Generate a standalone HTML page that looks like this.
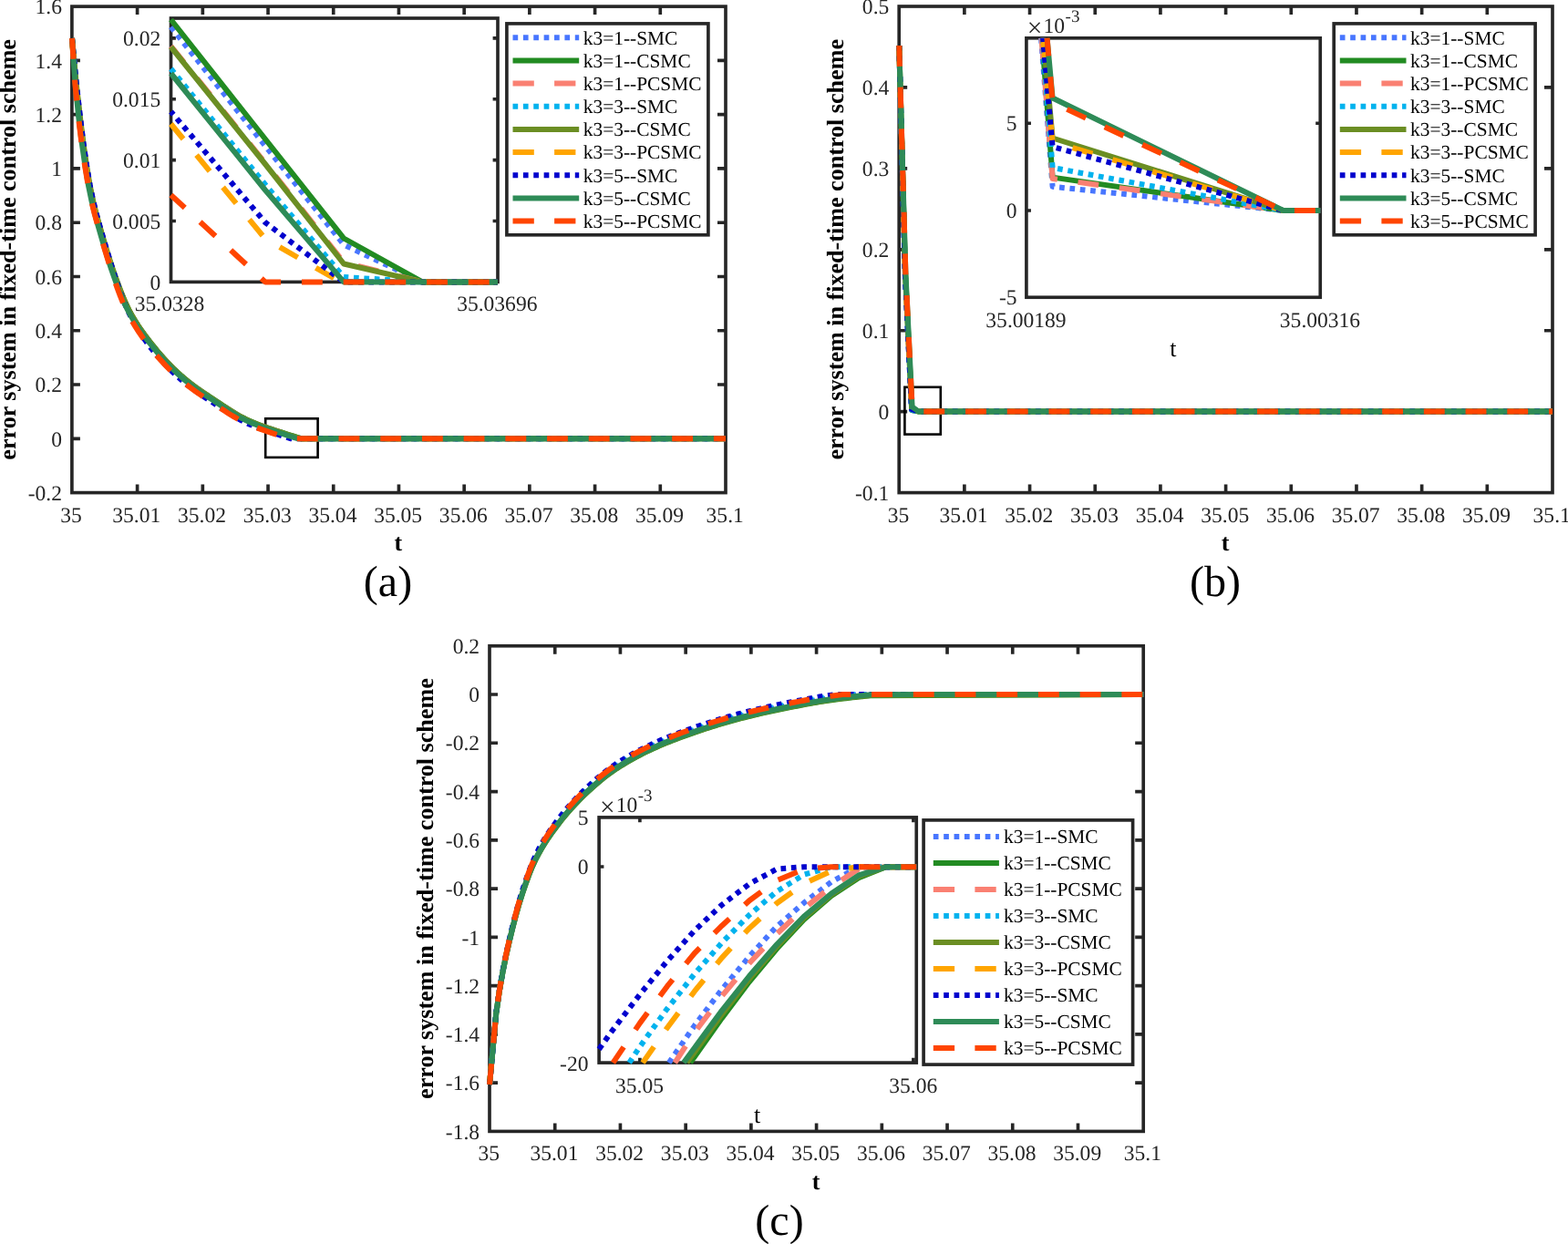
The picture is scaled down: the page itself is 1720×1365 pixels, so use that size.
<!DOCTYPE html>
<html lang="en"><head><meta charset="utf-8"><title>Error system in fixed-time control scheme</title>
<style>html,body{margin:0;padding:0;background:#fff}svg{display:block;font-family:"Liberation Serif","Times New Roman",Times,serif}text{white-space:pre;text-rendering:geometricPrecision}</style>
</head><body>
<svg width="1720" height="1365" viewBox="0 0 1720 1365">
<rect width="1720" height="1365" fill="#fff"/>
<path d="M150.61 540.6v-9M150.61 7.1v9M222.32 540.6v-9M222.32 7.1v9M294.03 540.6v-9M294.03 7.1v9M365.74 540.6v-9M365.74 7.1v9M437.45 540.6v-9M437.45 7.1v9M509.16 540.6v-9M509.16 7.1v9M580.87 540.6v-9M580.87 7.1v9M652.58 540.6v-9M652.58 7.1v9M724.29 540.6v-9M724.29 7.1v9M78.9 66.38h9M796 66.38h-9M78.9 125.66h9M796 125.66h-9M78.9 184.93h9M796 184.93h-9M78.9 244.21h9M796 244.21h-9M78.9 303.49h9M796 303.49h-9M78.9 362.77h9M796 362.77h-9M78.9 422.04h9M796 422.04h-9M78.9 481.32h9M796 481.32h-9" fill="none" stroke="#262626" stroke-width="3.65"/>
<text x="68" y="15.3" font-size="23.55" text-anchor="end" fill="#262626">1.6</text>
<text x="68" y="74.58" font-size="23.55" text-anchor="end" fill="#262626">1.4</text>
<text x="68" y="133.86" font-size="23.55" text-anchor="end" fill="#262626">1.2</text>
<text x="68" y="193.13" font-size="23.55" text-anchor="end" fill="#262626">1</text>
<text x="68" y="252.41" font-size="23.55" text-anchor="end" fill="#262626">0.8</text>
<text x="68" y="311.69" font-size="23.55" text-anchor="end" fill="#262626">0.6</text>
<text x="68" y="370.97" font-size="23.55" text-anchor="end" fill="#262626">0.4</text>
<text x="68" y="430.24" font-size="23.55" text-anchor="end" fill="#262626">0.2</text>
<text x="68" y="489.52" font-size="23.55" text-anchor="end" fill="#262626">0</text>
<text x="68" y="548.8" font-size="23.55" text-anchor="end" fill="#262626">-0.2</text>
<text x="78.1" y="572.5" font-size="23.55" text-anchor="middle" fill="#262626">35</text>
<text x="149.81" y="572.5" font-size="23.55" text-anchor="middle" fill="#262626">35.01</text>
<text x="221.52" y="572.5" font-size="23.55" text-anchor="middle" fill="#262626">35.02</text>
<text x="293.23" y="572.5" font-size="23.55" text-anchor="middle" fill="#262626">35.03</text>
<text x="364.94" y="572.5" font-size="23.55" text-anchor="middle" fill="#262626">35.04</text>
<text x="436.65" y="572.5" font-size="23.55" text-anchor="middle" fill="#262626">35.05</text>
<text x="508.36" y="572.5" font-size="23.55" text-anchor="middle" fill="#262626">35.06</text>
<text x="580.07" y="572.5" font-size="23.55" text-anchor="middle" fill="#262626">35.07</text>
<text x="651.78" y="572.5" font-size="23.55" text-anchor="middle" fill="#262626">35.08</text>
<text x="723.49" y="572.5" font-size="23.55" text-anchor="middle" fill="#262626">35.09</text>
<text x="795.2" y="572.5" font-size="23.55" text-anchor="middle" fill="#262626">35.1</text>
<text x="436.95" y="604" font-size="26.1" text-anchor="middle" font-weight="bold" fill="#000">t</text>
<text x="17.4" y="273.85" font-size="26.1" text-anchor="middle" font-weight="bold" transform="rotate(-90 17.4 273.85)" fill="#000">error system in fixed-time control scheme</text>
<rect x="78.9" y="7.1" width="717.1" height="533.5" fill="none" stroke="#262626" stroke-width="3.65"/>
<rect x="291.2" y="459.3" width="57.4" height="42.6" fill="none" stroke="#000" stroke-width="2.6"/>
<path d="M79 42 L83.3 91.96 L87.16 127.55 L90.75 156.69 L94.33 181.37 L97.91 202.95 L101.49 220.3 L105.06 234.72 L108.64 247.62 L112.23 260.14 L115.81 272.32 L119.39 283.9 L122.96 294.74 L126.53 304.82 L130.1 314.5 L133.67 323.65 L137.24 332.05 L140.79 339.46 L144.35 346 L147.91 352 L151.47 357.55 L155.04 362.73 L158.6 367.63 L162.17 372.35 L165.75 376.93 L169.32 381.38 L172.9 385.68 L176.47 389.85 L180.05 393.87 L183.62 397.74 L187.19 401.45 L190.76 405.01 L194.33 408.42 L197.9 411.65 L201.47 414.74 L205.04 417.68 L208.61 420.5 L212.18 423.21 L215.76 425.83 L219.33 428.37 L222.91 430.84 L226.49 433.27 L230.07 435.66 L233.65 438.03 L237.24 440.4 L240.82 442.78 L244.4 445.15 L247.99 447.49 L251.56 449.79 L255.14 452.04 L258.71 454.2 L262.28 456.27 L265.84 458.22 L269.4 460.04 L272.96 461.72 L276.53 463.27 L280.09 464.74 L283.66 466.12 L287.24 467.44 L290.81 468.7 L294.39 469.92 L297.97 471.12 L301.55 472.29 L305.13 473.46 L308.72 474.63 L312.3 475.81 L315.88 476.96 L319.46 478.08 L323.04 479.17 L326.62 480.25 L331 481.3 L796 481.3" fill="none" stroke="#4876FF" stroke-width="6" stroke-linejoin="round" stroke-dasharray="5.7 5.7"/>
<path d="M79 42 L83.44 91.95 L87.36 127.53 L90.94 156.66 L94.53 181.34 L98.11 202.92 L101.68 220.26 L105.26 234.67 L108.84 247.56 L112.42 260.08 L116 272.26 L119.58 283.84 L123.15 294.68 L126.72 304.75 L130.29 314.43 L133.86 323.58 L137.42 331.96 L140.97 339.37 L144.53 345.91 L148.08 351.9 L151.64 357.44 L155.2 362.61 L158.76 367.51 L162.33 372.23 L165.9 376.81 L169.48 381.25 L173.05 385.55 L176.62 389.72 L180.2 393.73 L183.77 397.6 L187.34 401.31 L190.9 404.87 L194.47 408.27 L198.03 411.5 L201.6 414.58 L205.17 417.52 L208.73 420.34 L212.3 423.05 L215.87 425.67 L219.45 428.2 L223.02 430.68 L226.6 433.1 L230.18 435.49 L233.76 437.86 L237.35 440.23 L240.93 442.61 L244.51 444.98 L248.09 447.32 L251.67 449.63 L255.24 451.87 L258.81 454.03 L262.38 456.09 L265.94 458.04 L269.49 459.86 L273.04 461.54 L276.6 463.09 L280.17 464.55 L283.73 465.93 L287.3 467.25 L290.88 468.51 L294.45 469.74 L298.03 470.93 L301.61 472.1 L305.2 473.27 L308.78 474.44 L312.37 475.62 L315.94 476.77 L319.52 477.89 L323.1 478.98 L326.68 480.06 L331 481.3 L796 481.3" fill="none" stroke="#228B22" stroke-width="6" stroke-linejoin="round"/>
<path d="M79 42 L83.3 91.96 L87.16 127.55 L90.75 156.69 L94.33 181.37 L97.91 202.95 L101.49 220.3 L105.06 234.72 L108.64 247.62 L112.23 260.14 L115.81 272.32 L119.39 283.9 L122.95 294.74 L126.51 304.82 L130.08 314.51 L133.64 323.67 L137.2 332.06 L140.75 339.48 L144.3 346.03 L147.86 352.04 L151.42 357.59 L154.97 362.77 L158.54 367.68 L162.1 372.4 L165.67 376.99 L169.24 381.44 L172.82 385.75 L176.4 389.91 L179.97 393.93 L183.55 397.8 L187.12 401.52 L190.69 405.09 L194.26 408.49 L197.84 411.73 L201.41 414.81 L204.98 417.76 L208.55 420.58 L212.12 423.29 L215.7 425.91 L219.27 428.45 L222.85 430.93 L226.43 433.35 L230.01 435.74 L233.6 438.11 L237.18 440.48 L240.77 442.86 L244.35 445.23 L247.93 447.58 L251.51 449.88 L255.08 452.12 L258.66 454.28 L262.23 456.35 L265.79 458.31 L269.36 460.13 L272.92 461.81 L276.49 463.36 L280.06 464.83 L283.63 466.21 L287.2 467.53 L290.78 468.8 L294.36 470.02 L297.94 471.21 L301.52 472.39 L305.1 473.55 L308.69 474.73 L312.27 475.9 L315.85 477.05 L319.43 478.17 L323.01 479.27 L326.59 480.35 L331 481.3 L796 481.3" fill="none" stroke="#FA8072" stroke-width="6" stroke-linejoin="round" stroke-dasharray="22.85 22.86"/>
<path d="M79 42 L83.51 91.94 L87.46 127.52 L91.04 156.65 L94.62 181.32 L98.2 202.9 L101.78 220.24 L105.35 234.64 L108.93 247.54 L112.51 260.06 L116.09 272.23 L119.66 283.81 L123.17 294.67 L126.68 304.76 L130.18 314.47 L133.69 323.65 L137.19 332.07 L140.69 339.52 L144.19 346.1 L147.69 352.14 L151.2 357.73 L154.72 362.95 L158.23 367.91 L161.75 372.67 L165.28 377.3 L168.86 381.76 L172.44 386.07 L176.02 390.24 L179.6 394.27 L183.18 398.15 L186.76 401.87 L190.34 405.44 L193.92 408.85 L197.5 412.1 L201.08 415.19 L204.66 418.15 L208.24 420.97 L211.82 423.69 L215.41 426.32 L218.99 428.86 L222.57 431.34 L226.15 433.77 L229.74 436.16 L233.32 438.53 L236.91 440.9 L240.49 443.28 L244.07 445.65 L247.66 448 L251.24 450.3 L254.82 452.55 L258.4 454.72 L261.98 456.79 L265.56 458.75 L269.14 460.58 L272.71 462.27 L276.29 463.83 L279.87 465.29 L283.45 466.68 L287.03 468 L290.61 469.27 L294.2 470.49 L297.78 471.69 L301.36 472.86 L304.95 474.03 L308.53 475.2 L312.12 476.38 L315.7 477.53 L319.28 478.65 L322.87 479.75 L326.45 480.82 L331 481.3 L796 481.3" fill="none" stroke="#00B2EE" stroke-width="6" stroke-linejoin="round" stroke-dasharray="5.7 5.7"/>
<path d="M79 42 L83.73 91.93 L87.76 127.48 L91.34 156.61 L94.92 181.28 L98.5 202.84 L102.07 220.17 L105.64 234.57 L109.22 247.46 L112.8 259.97 L116.38 272.15 L119.95 283.72 L123.48 294.56 L127 304.64 L130.53 314.34 L134.05 323.5 L137.57 331.9 L141.08 339.32 L144.59 345.87 L148.11 351.88 L151.63 357.45 L155.15 362.65 L158.68 367.57 L162.21 372.32 L165.75 376.93 L169.32 381.38 L172.9 385.68 L176.47 389.85 L180.05 393.87 L183.62 397.74 L187.19 401.45 L190.76 405.01 L194.33 408.42 L197.9 411.65 L201.47 414.74 L205.04 417.68 L208.61 420.5 L212.18 423.21 L215.76 425.83 L219.33 428.37 L222.91 430.84 L226.49 433.27 L230.07 435.66 L233.65 438.03 L237.24 440.4 L240.82 442.78 L244.4 445.15 L247.99 447.49 L251.56 449.79 L255.14 452.04 L258.71 454.2 L262.28 456.27 L265.84 458.22 L269.4 460.04 L272.96 461.72 L276.53 463.27 L280.09 464.74 L283.66 466.12 L287.24 467.44 L290.81 468.7 L294.39 469.92 L297.97 471.12 L301.55 472.29 L305.13 473.46 L308.72 474.63 L312.3 475.81 L315.88 476.96 L319.46 478.08 L323.04 479.17 L326.62 480.25 L331 481.3 L796 481.3" fill="none" stroke="#6B8E23" stroke-width="6" stroke-linejoin="round"/>
<path d="M79 42 L83.01 91.99 L86.77 127.59 L90.35 156.74 L93.93 181.43 L97.52 203.02 L101.1 220.39 L104.68 234.82 L108.26 247.73 L111.84 260.25 L115.42 272.43 L118.99 284.02 L122.43 294.92 L125.86 305.06 L129.31 314.8 L132.75 324.03 L136.19 332.52 L139.65 340.05 L143.11 346.71 L146.57 352.83 L150.04 358.5 L153.51 363.81 L156.99 368.83 L160.47 373.66 L163.94 378.36 L167.54 382.83 L171.14 387.17 L174.74 391.36 L178.34 395.41 L181.95 399.31 L185.55 403.06 L189.16 406.66 L192.77 410.1 L196.38 413.38 L199.99 416.49 L203.6 419.47 L207.2 422.32 L210.81 425.06 L214.41 427.69 L218.01 430.25 L221.61 432.74 L225.2 435.18 L228.79 437.58 L232.38 439.95 L235.97 442.32 L239.55 444.69 L243.14 447.07 L246.73 449.42 L250.33 451.74 L253.93 453.99 L257.54 456.18 L261.15 458.27 L264.76 460.25 L268.39 462.11 L272.01 463.82 L275.63 465.39 L279.24 466.87 L282.85 468.27 L286.45 469.6 L290.06 470.88 L293.65 472.1 L297.25 473.3 L300.84 474.48 L304.42 475.64 L308 476.82 L311.59 478 L315.19 479.15 L318.78 480.28 L322.37 481.3 L796 481.3" fill="none" stroke="#FFA500" stroke-width="6" stroke-linejoin="round" stroke-dasharray="22.85 22.86"/>
<path d="M79 42 L83.8 91.92 L87.86 127.47 L91.44 156.59 L95.02 181.26 L98.6 202.83 L102.17 220.15 L105.74 234.54 L109.32 247.43 L112.9 259.94 L116.48 272.12 L120.02 283.7 L123.3 294.62 L126.59 304.79 L129.89 314.58 L133.18 323.85 L136.49 332.39 L139.8 339.97 L143.12 346.71 L146.45 352.91 L149.8 358.66 L153.15 364.06 L156.51 369.19 L159.87 374.12 L163.24 378.92 L166.84 383.4 L170.45 387.75 L174.06 391.95 L177.68 396.01 L181.29 399.93 L184.91 403.69 L188.53 407.3 L192.15 410.76 L195.78 414.05 L199.41 417.18 L203.03 420.17 L206.65 423.03 L210.27 425.78 L213.88 428.42 L217.49 430.99 L221.1 433.48 L224.7 435.92 L228.3 438.32 L231.89 440.7 L235.47 443.07 L239.06 445.45 L242.65 447.82 L246.24 450.18 L249.85 452.49 L253.46 454.76 L257.08 456.95 L260.71 459.05 L264.34 461.05 L267.99 462.92 L271.64 464.64 L275.28 466.22 L278.91 467.71 L282.53 469.11 L286.15 470.45 L289.76 471.73 L293.36 472.96 L296.96 474.16 L300.56 475.33 L304.14 476.5 L307.72 477.67 L311.31 478.85 L314.91 480.01 L318.52 481.14 L322.11 481.3 L796 481.3" fill="none" stroke="#0000CD" stroke-width="6" stroke-linejoin="round" stroke-dasharray="5.7 5.7"/>
<path d="M79 42 L82.58 92.02 L86.17 127.66 L89.75 156.82 L93.34 181.52 L96.92 203.13 L100.51 220.52 L104.09 234.97 L107.68 247.89 L111.26 260.42 L114.85 272.61 L118.43 284.2 L122.02 295.06 L125.6 305.15 L129.19 314.85 L132.77 324.02 L136.36 332.44 L139.94 339.89 L143.53 346.47 L147.11 352.5 L150.7 358.06 L154.28 363.26 L157.87 368.17 L161.45 372.9 L165.04 377.49 L168.62 381.95 L172.21 386.26 L175.79 390.44 L179.38 394.47 L182.96 398.35 L186.55 402.08 L190.13 405.66 L193.72 409.07 L197.3 412.33 L200.89 415.42 L204.47 418.38 L208.06 421.21 L211.64 423.93 L215.23 426.56 L218.81 429.11 L222.4 431.59 L225.98 434.02 L229.57 436.41 L233.15 438.78 L236.74 441.15 L240.32 443.53 L243.91 445.9 L247.49 448.25 L251.08 450.55 L254.66 452.8 L258.25 454.97 L261.83 457.05 L265.42 459.02 L269 460.85 L272.59 462.54 L276.17 464.1 L279.76 465.57 L283.34 466.96 L286.93 468.28 L290.51 469.55 L294.1 470.78 L297.68 471.97 L301.27 473.15 L304.85 474.31 L308.44 475.49 L312.02 476.67 L315.61 477.82 L319.19 478.94 L322.78 480.04 L326.36 481.11 L327 481.3 L796 481.3" fill="none" stroke="#2E8B57" stroke-width="6" stroke-linejoin="round"/>
<path d="M79 42 L82.37 92.04 L85.87 127.69 L89.46 156.86 L93.04 181.57 L96.63 203.19 L100.22 220.59 L103.8 235.05 L107.39 247.97 L110.98 260.5 L114.56 272.69 L118.13 284.3 L121.53 295.23 L124.94 305.39 L128.35 315.17 L131.77 324.43 L135.2 332.97 L138.64 340.56 L142.09 347.29 L145.54 353.47 L149 359.19 L152.47 364.55 L155.93 369.62 L159.39 374.49 L162.85 379.23 L166.46 383.72 L170.07 388.07 L173.69 392.28 L177.31 396.35 L180.93 400.27 L184.55 404.04 L188.18 407.66 L191.81 411.12 L195.45 414.42 L199.08 417.56 L202.72 420.56 L206.35 423.43 L209.97 426.18 L213.59 428.83 L217.21 431.4 L220.82 433.9 L224.42 436.34 L228.02 438.74 L231.61 441.12 L235.19 443.49 L238.78 445.86 L242.37 448.24 L245.97 450.6 L249.58 452.92 L253.2 455.19 L256.82 457.38 L260.46 459.49 L264.11 461.49 L267.77 463.36 L271.43 465.09 L275.08 466.68 L278.72 468.17 L282.35 469.58 L285.98 470.92 L289.6 472.2 L293.21 473.43 L296.81 474.63 L300.4 475.81 L303.99 476.97 L307.57 478.15 L311.16 479.33 L314.76 480.49 L318.37 481.3 L796 481.3" fill="none" stroke="#FF4500" stroke-width="6" stroke-linejoin="round" stroke-dasharray="22.85 22.86"/>
<rect x="187.5" y="20" width="358.5" height="289.4" fill="#fff"/>
<path d="M187.5 242.5h5.41M546 242.5h-5.41M187.5 175.6h5.41M546 175.6h-5.41M187.5 108.7h5.41M546 108.7h-5.41M187.5 41.8h5.41M546 41.8h-5.41" fill="none" stroke="#262626" stroke-width="3.65"/>
<rect x="187.5" y="20" width="358.5" height="289.4" fill="none" stroke="#262626" stroke-width="3.65"/>
<text x="176.2" y="318" font-size="23.55" text-anchor="end" fill="#262626">0</text>
<text x="176.2" y="251.1" font-size="23.55" text-anchor="end" fill="#262626">0.005</text>
<text x="176.2" y="184.2" font-size="23.55" text-anchor="end" fill="#262626">0.01</text>
<text x="176.2" y="117.3" font-size="23.55" text-anchor="end" fill="#262626">0.015</text>
<text x="176.2" y="50.4" font-size="23.55" text-anchor="end" fill="#262626">0.02</text>
<text x="186" y="341.3" font-size="23.55" text-anchor="middle" fill="#262626">35.0328</text>
<text x="545.3" y="341.3" font-size="23.55" text-anchor="middle" fill="#262626">35.03696</text>
<path d="M187.5 29.5 L290.9 160 L377.1 268.5 L463.3 309.4 L546 309.4" fill="none" stroke="#4876FF" stroke-width="6" stroke-linejoin="round" stroke-dasharray="5.7 5.7"/>
<path d="M187.5 21.5 L290.9 152.5 L377.1 261.5 L463.3 309.4 L546 309.4" fill="none" stroke="#228B22" stroke-width="6" stroke-linejoin="round"/>
<path d="M187.5 50.6 L290.9 178.8 L377.1 288 L463.3 309.4 L546 309.4" fill="none" stroke="#FA8072" stroke-width="6" stroke-linejoin="round" stroke-dasharray="22.85 22.86"/>
<path d="M187.5 75.5 L290.9 202.5 L377.1 304 L463.3 309.4 L546 309.4" fill="none" stroke="#00B2EE" stroke-width="6" stroke-linejoin="round" stroke-dasharray="5.7 5.7"/>
<path d="M187.5 51.5 L290.9 180 L377.1 289.5 L463.3 309.4 L546 309.4" fill="none" stroke="#6B8E23" stroke-width="6" stroke-linejoin="round"/>
<path d="M187.5 136 L290.9 262 L373.61 309.4" fill="none" stroke="#FFA500" stroke-width="6" stroke-linejoin="round" stroke-dasharray="22.85 22.86" stroke-dashoffset="1.5"/>
<path d="M463.3 309.4 L546 309.4" fill="none" stroke="#FFA500" stroke-width="6" stroke-linejoin="round" stroke-dasharray="22.85 22.86" stroke-dashoffset="1.5"/>
<path d="M187.5 122.5 L290.9 244 L377.1 309.4 L463.3 309.4 L546 309.4" fill="none" stroke="#0000CD" stroke-width="6" stroke-linejoin="round" stroke-dasharray="5.7 5.7" stroke-dashoffset="1.4"/>
<path d="M187.5 80.5 L290.9 208.5 L377.1 309.4 L463.3 309.4 L546 309.4" fill="none" stroke="#2E8B57" stroke-width="6" stroke-linejoin="round"/>
<path d="M187.5 214 L290.9 309.4 L377.1 309.4 L463.3 309.4 L546 309.4" fill="none" stroke="#FF4500" stroke-width="6" stroke-linejoin="round" stroke-dasharray="22.85 22.86" stroke-dashoffset="2.1"/>
<rect x="555.9" y="25.9" width="221" height="231.9" fill="#fff" stroke="#262626" stroke-width="3.65"/>
<path d="M562.5 41.3H635.2" stroke="#4876FF" stroke-width="6" fill="none" stroke-dasharray="5.7 5.68"/>
<text x="639.8" y="48.6" font-size="21.4" fill="#000">k3=1--SMC</text>
<path d="M562.5 66.46H635.2" stroke="#228B22" stroke-width="6" fill="none"/>
<text x="639.8" y="73.76" font-size="21.4" fill="#000">k3=1--CSMC</text>
<path d="M562.5 91.62H635.2" stroke="#FA8072" stroke-width="6" fill="none" stroke-dasharray="23.3 22.3"/>
<text x="639.8" y="98.92" font-size="21.4" fill="#000">k3=1--PCSMC</text>
<path d="M562.5 116.78H635.2" stroke="#00B2EE" stroke-width="6" fill="none" stroke-dasharray="5.7 5.68"/>
<text x="639.8" y="124.08" font-size="21.4" fill="#000">k3=3--SMC</text>
<path d="M562.5 141.94H635.2" stroke="#6B8E23" stroke-width="6" fill="none"/>
<text x="639.8" y="149.24" font-size="21.4" fill="#000">k3=3--CSMC</text>
<path d="M562.5 167.1H635.2" stroke="#FFA500" stroke-width="6" fill="none" stroke-dasharray="23.3 22.3"/>
<text x="639.8" y="174.4" font-size="21.4" fill="#000">k3=3--PCSMC</text>
<path d="M562.5 192.26H635.2" stroke="#0000CD" stroke-width="6" fill="none" stroke-dasharray="5.7 5.68"/>
<text x="639.8" y="199.56" font-size="21.4" fill="#000">k3=5--SMC</text>
<path d="M562.5 217.42H635.2" stroke="#2E8B57" stroke-width="6" fill="none"/>
<text x="639.8" y="224.72" font-size="21.4" fill="#000">k3=5--CSMC</text>
<path d="M562.5 242.58H635.2" stroke="#FF4500" stroke-width="6" fill="none" stroke-dasharray="23.3 22.3"/>
<text x="639.8" y="249.88" font-size="21.4" fill="#000">k3=5--PCSMC</text>
<text x="425.5" y="654.4" font-size="48" text-anchor="middle" fill="#000">(a)</text>
<path d="M1057.88 540.6v-8.99M1057.88 7v8.99M1129.56 540.6v-8.99M1129.56 7v8.99M1201.24 540.6v-8.99M1201.24 7v8.99M1272.92 540.6v-8.99M1272.92 7v8.99M1344.6 540.6v-8.99M1344.6 7v8.99M1416.28 540.6v-8.99M1416.28 7v8.99M1487.96 540.6v-8.99M1487.96 7v8.99M1559.64 540.6v-8.99M1559.64 7v8.99M1631.32 540.6v-8.99M1631.32 7v8.99M986.2 95.93h8.99M1703 95.93h-8.99M986.2 184.87h8.99M1703 184.87h-8.99M986.2 273.8h8.99M1703 273.8h-8.99M986.2 362.73h8.99M1703 362.73h-8.99M986.2 451.67h8.99M1703 451.67h-8.99" fill="none" stroke="#262626" stroke-width="3.65"/>
<text x="975.3" y="15.2" font-size="23.55" text-anchor="end" fill="#262626">0.5</text>
<text x="975.3" y="104.13" font-size="23.55" text-anchor="end" fill="#262626">0.4</text>
<text x="975.3" y="193.07" font-size="23.55" text-anchor="end" fill="#262626">0.3</text>
<text x="975.3" y="282" font-size="23.55" text-anchor="end" fill="#262626">0.2</text>
<text x="975.3" y="370.93" font-size="23.55" text-anchor="end" fill="#262626">0.1</text>
<text x="975.3" y="459.87" font-size="23.55" text-anchor="end" fill="#262626">0</text>
<text x="975.3" y="548.8" font-size="23.55" text-anchor="end" fill="#262626">-0.1</text>
<text x="985.4" y="572.5" font-size="23.55" text-anchor="middle" fill="#262626">35</text>
<text x="1057.08" y="572.5" font-size="23.55" text-anchor="middle" fill="#262626">35.01</text>
<text x="1128.76" y="572.5" font-size="23.55" text-anchor="middle" fill="#262626">35.02</text>
<text x="1200.44" y="572.5" font-size="23.55" text-anchor="middle" fill="#262626">35.03</text>
<text x="1272.12" y="572.5" font-size="23.55" text-anchor="middle" fill="#262626">35.04</text>
<text x="1343.8" y="572.5" font-size="23.55" text-anchor="middle" fill="#262626">35.05</text>
<text x="1415.48" y="572.5" font-size="23.55" text-anchor="middle" fill="#262626">35.06</text>
<text x="1487.16" y="572.5" font-size="23.55" text-anchor="middle" fill="#262626">35.07</text>
<text x="1558.84" y="572.5" font-size="23.55" text-anchor="middle" fill="#262626">35.08</text>
<text x="1630.52" y="572.5" font-size="23.55" text-anchor="middle" fill="#262626">35.09</text>
<text x="1702.2" y="572.5" font-size="23.55" text-anchor="middle" fill="#262626">35.1</text>
<text x="1344.1" y="604" font-size="26.1" text-anchor="middle" font-weight="bold" fill="#000">t</text>
<text x="924.7" y="273.8" font-size="26.1" text-anchor="middle" font-weight="bold" transform="rotate(-90 924.7 273.8)" fill="#000">error system in fixed-time control scheme</text>
<rect x="986.2" y="7" width="716.8" height="533.6" fill="none" stroke="#262626" stroke-width="3.65"/>
<rect x="992.4" y="424.8" width="39.4" height="51.8" fill="none" stroke="#000" stroke-width="2.6"/>
<path d="M986.3 50 L992.8 300 L1000 450 L1007.8 451.6 L1703 451.6" fill="none" stroke="#4876FF" stroke-width="6" stroke-linejoin="round" stroke-dasharray="5.7 5.7"/>
<path d="M986.3 50 L993 300 L1000.2 450 L1007.8 451.6 L1703 451.6" fill="none" stroke="#228B22" stroke-width="6" stroke-linejoin="round"/>
<path d="M986.3 50 L992.9 300 L1000.1 450 L1007.8 451.6 L1703 451.6" fill="none" stroke="#FA8072" stroke-width="6" stroke-linejoin="round" stroke-dasharray="22.85 22.86"/>
<path d="M986.3 50 L992.9 300 L1000.1 449.5 L1007.8 451.6 L1703 451.6" fill="none" stroke="#00B2EE" stroke-width="6" stroke-linejoin="round" stroke-dasharray="5.7 5.7"/>
<path d="M986.3 50 L993.1 300 L1000.3 448 L1007.8 451.6 L1703 451.6" fill="none" stroke="#6B8E23" stroke-width="6" stroke-linejoin="round"/>
<path d="M986.3 50 L993 300 L1000.2 448.5 L1007.8 451.6 L1703 451.6" fill="none" stroke="#FFA500" stroke-width="6" stroke-linejoin="round" stroke-dasharray="22.85 22.86"/>
<path d="M986.3 50 L992.8 300 L1000 449 L1007.8 451.6 L1703 451.6" fill="none" stroke="#0000CD" stroke-width="6" stroke-linejoin="round" stroke-dasharray="5.7 5.7"/>
<path d="M986.3 50 L993.4 300 L1000.6 446.5 L1007.8 451.6 L1703 451.6" fill="none" stroke="#2E8B57" stroke-width="6" stroke-linejoin="round"/>
<path d="M986.3 50 L993.4 300 L1000.6 447 L1007.8 451.6 L1703 451.6" fill="none" stroke="#FF4500" stroke-width="6" stroke-linejoin="round" stroke-dasharray="22.85 22.86"/>
<rect x="1125.9" y="41.8" width="322.35" height="284.45" fill="#fff"/>
<path d="M1125.9 135.2h5.05M1448.25 135.2h-5.05M1125.9 231h5.05M1448.25 231h-5.05" fill="none" stroke="#262626" stroke-width="3.65"/>
<rect x="1125.9" y="41.8" width="322.35" height="284.45" fill="none" stroke="#262626" stroke-width="3.65"/>
<text x="1115.5" y="143.4" font-size="23.55" text-anchor="end" fill="#262626">5</text>
<text x="1115.5" y="239.2" font-size="23.55" text-anchor="end" fill="#262626">0</text>
<text x="1115.5" y="334.45" font-size="23.55" text-anchor="end" fill="#262626">-5</text>
<text x="1125.5" y="358.8" font-size="23.55" text-anchor="middle" fill="#262626">35.00189</text>
<text x="1448" y="358.8" font-size="23.55" text-anchor="middle" fill="#262626">35.00316</text>
<text x="1286.8" y="391" font-size="26.1" text-anchor="middle" fill="#000">t</text>
<text x="1126.75" y="40" font-size="29.4" fill="#262626">×</text>
<text x="1144.6" y="35.8" font-size="23.55" fill="#262626">10</text>
<text x="1168.6" y="24" font-size="19" fill="#262626">-3</text>
<path d="M1142.04 41.8 L1154.6 204.8 L1407.7 231 L1448.25 231" fill="none" stroke="#4876FF" stroke-width="6" stroke-linejoin="round" stroke-dasharray="5.7 5.7"/>
<path d="M1143.04 41.8 L1154.6 194.6 L1407.7 231 L1448.25 231" fill="none" stroke="#228B22" stroke-width="6" stroke-linejoin="round"/>
<path d="M1142.54 41.8 L1154.6 196 L1407.7 231 L1448.25 231" fill="none" stroke="#FA8072" stroke-width="6" stroke-linejoin="round" stroke-dasharray="22.85 22.86"/>
<path d="M1143.54 41.8 L1154.6 184 L1407.7 231 L1448.25 231" fill="none" stroke="#00B2EE" stroke-width="6" stroke-linejoin="round" stroke-dasharray="5.7 5.7"/>
<path d="M1144.55 41.8 L1154.6 151.5 L1407.7 231 L1448.25 231" fill="none" stroke="#6B8E23" stroke-width="6" stroke-linejoin="round"/>
<path d="M1144.05 41.8 L1154.6 155.5 L1407.7 231 L1448.25 231" fill="none" stroke="#FFA500" stroke-width="6" stroke-linejoin="round" stroke-dasharray="22.85 22.86"/>
<path d="M1144.05 41.8 L1154.6 161 L1407.7 231 L1448.25 231" fill="none" stroke="#0000CD" stroke-width="6" stroke-linejoin="round" stroke-dasharray="5.7 5.7" stroke-dashoffset="1.5"/>
<path d="M1148.55 41.8 L1154.6 107.5 L1407.7 231 L1448.25 231" fill="none" stroke="#2E8B57" stroke-width="6" stroke-linejoin="round"/>
<path d="M1148.55 41.8 L1154.6 112.5 L1407.7 231 L1448.25 231" fill="none" stroke="#FF4500" stroke-width="6" stroke-linejoin="round" stroke-dasharray="22.85 22.86" stroke-dashoffset="3"/>
<rect x="1463.2" y="25.9" width="220.9" height="231.9" fill="#fff" stroke="#262626" stroke-width="3.65"/>
<path d="M1469.8 41.3H1542.5" stroke="#4876FF" stroke-width="6" fill="none" stroke-dasharray="5.7 5.68"/>
<text x="1547.1" y="48.6" font-size="21.4" fill="#000">k3=1--SMC</text>
<path d="M1469.8 66.46H1542.5" stroke="#228B22" stroke-width="6" fill="none"/>
<text x="1547.1" y="73.76" font-size="21.4" fill="#000">k3=1--CSMC</text>
<path d="M1469.8 91.62H1542.5" stroke="#FA8072" stroke-width="6" fill="none" stroke-dasharray="23.3 22.3"/>
<text x="1547.1" y="98.92" font-size="21.4" fill="#000">k3=1--PCSMC</text>
<path d="M1469.8 116.78H1542.5" stroke="#00B2EE" stroke-width="6" fill="none" stroke-dasharray="5.7 5.68"/>
<text x="1547.1" y="124.08" font-size="21.4" fill="#000">k3=3--SMC</text>
<path d="M1469.8 141.94H1542.5" stroke="#6B8E23" stroke-width="6" fill="none"/>
<text x="1547.1" y="149.24" font-size="21.4" fill="#000">k3=3--CSMC</text>
<path d="M1469.8 167.1H1542.5" stroke="#FFA500" stroke-width="6" fill="none" stroke-dasharray="23.3 22.3"/>
<text x="1547.1" y="174.4" font-size="21.4" fill="#000">k3=3--PCSMC</text>
<path d="M1469.8 192.26H1542.5" stroke="#0000CD" stroke-width="6" fill="none" stroke-dasharray="5.7 5.68"/>
<text x="1547.1" y="199.56" font-size="21.4" fill="#000">k3=5--SMC</text>
<path d="M1469.8 217.42H1542.5" stroke="#2E8B57" stroke-width="6" fill="none"/>
<text x="1547.1" y="224.72" font-size="21.4" fill="#000">k3=5--CSMC</text>
<path d="M1469.8 242.58H1542.5" stroke="#FF4500" stroke-width="6" fill="none" stroke-dasharray="23.3 22.3"/>
<text x="1547.1" y="249.88" font-size="21.4" fill="#000">k3=5--PCSMC</text>
<text x="1333" y="654.4" font-size="48" text-anchor="middle" fill="#000">(b)</text>
<path d="M608.72 1241.4v-9M608.72 708.75v9M680.44 1241.4v-9M680.44 708.75v9M752.16 1241.4v-9M752.16 708.75v9M823.88 1241.4v-9M823.88 708.75v9M895.6 1241.4v-9M895.6 708.75v9M967.32 1241.4v-9M967.32 708.75v9M1039.04 1241.4v-9M1039.04 708.75v9M1110.76 1241.4v-9M1110.76 708.75v9M1182.48 1241.4v-9M1182.48 708.75v9M537 762.01h9M1254.2 762.01h-9M537 815.28h9M1254.2 815.28h-9M537 868.55h9M1254.2 868.55h-9M537 921.81h9M1254.2 921.81h-9M537 975.08h9M1254.2 975.08h-9M537 1028.34h9M1254.2 1028.34h-9M537 1081.61h9M1254.2 1081.61h-9M537 1134.87h9M1254.2 1134.87h-9M537 1188.13h9M1254.2 1188.13h-9" fill="none" stroke="#262626" stroke-width="3.65"/>
<text x="526.1" y="716.95" font-size="23.55" text-anchor="end" fill="#262626">0.2</text>
<text x="526.1" y="770.22" font-size="23.55" text-anchor="end" fill="#262626">0</text>
<text x="526.1" y="823.48" font-size="23.55" text-anchor="end" fill="#262626">-0.2</text>
<text x="526.1" y="876.75" font-size="23.55" text-anchor="end" fill="#262626">-0.4</text>
<text x="526.1" y="930.01" font-size="23.55" text-anchor="end" fill="#262626">-0.6</text>
<text x="526.1" y="983.28" font-size="23.55" text-anchor="end" fill="#262626">-0.8</text>
<text x="526.1" y="1036.54" font-size="23.55" text-anchor="end" fill="#262626">-1</text>
<text x="526.1" y="1089.81" font-size="23.55" text-anchor="end" fill="#262626">-1.2</text>
<text x="526.1" y="1143.07" font-size="23.55" text-anchor="end" fill="#262626">-1.4</text>
<text x="526.1" y="1196.34" font-size="23.55" text-anchor="end" fill="#262626">-1.6</text>
<text x="526.1" y="1249.6" font-size="23.55" text-anchor="end" fill="#262626">-1.8</text>
<text x="536.2" y="1273.3" font-size="23.55" text-anchor="middle" fill="#262626">35</text>
<text x="607.92" y="1273.3" font-size="23.55" text-anchor="middle" fill="#262626">35.01</text>
<text x="679.64" y="1273.3" font-size="23.55" text-anchor="middle" fill="#262626">35.02</text>
<text x="751.36" y="1273.3" font-size="23.55" text-anchor="middle" fill="#262626">35.03</text>
<text x="823.08" y="1273.3" font-size="23.55" text-anchor="middle" fill="#262626">35.04</text>
<text x="894.8" y="1273.3" font-size="23.55" text-anchor="middle" fill="#262626">35.05</text>
<text x="966.52" y="1273.3" font-size="23.55" text-anchor="middle" fill="#262626">35.06</text>
<text x="1038.24" y="1273.3" font-size="23.55" text-anchor="middle" fill="#262626">35.07</text>
<text x="1109.96" y="1273.3" font-size="23.55" text-anchor="middle" fill="#262626">35.08</text>
<text x="1181.68" y="1273.3" font-size="23.55" text-anchor="middle" fill="#262626">35.09</text>
<text x="1253.4" y="1273.3" font-size="23.55" text-anchor="middle" fill="#262626">35.1</text>
<text x="895.1" y="1304.8" font-size="26.1" text-anchor="middle" font-weight="bold" fill="#000">t</text>
<text x="475.5" y="975.08" font-size="26.1" text-anchor="middle" font-weight="bold" transform="rotate(-90 475.5 975.08)" fill="#000">error system in fixed-time control scheme</text>
<rect x="537" y="708.75" width="717.2" height="532.65" fill="none" stroke="#262626" stroke-width="3.65"/>
<path d="M537 1190 L540.59 1151.11 L544.17 1112.38 L547.76 1087.51 L551.34 1066.91 L554.93 1048.96 L558.52 1032.96 L562.1 1018.06 L565.69 1004.1 L569.27 991.22 L572.86 979.53 L576.45 968.83 L580.03 958.86 L583.62 949.81 L587.2 941.84 L590.79 934.83 L594.38 928.38 L597.96 922.44 L601.55 916.96 L605.13 911.79 L608.72 906.87 L612.31 902.11 L615.89 897.52 L619.48 893.11 L623.06 888.87 L626.65 884.78 L630.24 880.86 L633.82 877.08 L637.41 873.44 L640.99 869.93 L644.58 866.55 L648.17 863.25 L651.75 860.04 L655.34 856.92 L658.92 853.91 L662.51 851 L666.1 848.22 L669.68 845.55 L673.27 843.01 L676.85 840.6 L680.44 838.3 L684.03 836.08 L687.61 833.93 L691.2 831.85 L694.78 829.84 L698.37 827.9 L701.96 826.02 L705.54 824.2 L709.13 822.43 L712.71 820.72 L716.3 819.05 L719.89 817.42 L723.47 815.85 L727.06 814.32 L730.64 812.83 L734.23 811.37 L737.82 809.96 L741.4 808.58 L744.99 807.23 L748.57 805.91 L752.16 804.61 L755.75 803.34 L759.33 802.09 L762.92 800.86 L766.5 799.64 L770.09 798.44 L773.68 797.26 L777.26 796.1 L780.85 794.96 L784.43 793.84 L788.02 792.74 L791.61 791.66 L795.19 790.6 L798.78 789.57 L802.36 788.56 L805.95 787.58 L809.54 786.62 L813.12 785.69 L816.71 784.77 L820.29 783.87 L823.88 782.99 L827.47 782.13 L831.05 781.28 L834.64 780.45 L838.22 779.64 L841.81 778.84 L845.4 778.06 L848.98 777.28 L852.57 776.53 L856.15 775.78 L859.74 775.05 L863.33 774.33 L866.91 773.61 L870.5 772.9 L874.08 772.2 L877.67 771.51 L881.26 770.83 L884.84 770.16 L888.43 769.51 L892.01 768.87 L895.6 768.25 L899.19 767.66 L902.77 767.08 L906.36 766.53 L909.94 766.01 L913.53 765.51 L917.12 765.02 L920.7 764.56 L924.29 764.11 L927.87 763.67 L931.46 763.25 L935.05 762.84 L938.63 762.44 L942.22 762.06 L945.8 762 L949.39 762 L952.98 762 L956.56 762 L1254.2 762" fill="none" stroke="#4876FF" stroke-width="6" stroke-linejoin="round" stroke-dasharray="5.7 5.7"/>
<path d="M537 1190 L540.59 1151.26 L544.17 1112.67 L547.76 1087.96 L551.34 1067.51 L554.93 1049.71 L558.52 1033.85 L562.1 1019.1 L565.69 1005.3 L569.27 992.56 L572.86 981.02 L576.45 970.47 L580.03 960.65 L583.62 951.75 L587.2 943.93 L590.79 937.07 L594.38 930.77 L597.96 924.94 L601.55 919.46 L605.13 914.29 L608.72 909.37 L612.31 904.61 L615.89 900.02 L619.48 895.61 L623.06 891.37 L626.65 887.28 L630.24 883.36 L633.82 879.58 L637.41 875.94 L640.99 872.43 L644.58 869.05 L648.17 865.75 L651.75 862.54 L655.34 859.42 L658.92 856.41 L662.51 853.5 L666.1 850.72 L669.68 848.05 L673.27 845.51 L676.85 843.1 L680.44 840.8 L684.03 838.58 L687.61 836.43 L691.2 834.35 L694.78 832.34 L698.37 830.4 L701.96 828.52 L705.54 826.7 L709.13 824.93 L712.71 823.22 L716.3 821.55 L719.89 819.92 L723.47 818.35 L727.06 816.82 L730.64 815.33 L734.23 813.87 L737.82 812.46 L741.4 811.08 L744.99 809.73 L748.57 808.41 L752.16 807.11 L755.75 805.84 L759.33 804.59 L762.92 803.36 L766.5 802.14 L770.09 800.94 L773.68 799.76 L777.26 798.6 L780.85 797.46 L784.43 796.34 L788.02 795.24 L791.61 794.16 L795.19 793.1 L798.78 792.07 L802.36 791.06 L805.95 790.08 L809.54 789.12 L813.12 788.19 L816.71 787.27 L820.29 786.37 L823.88 785.49 L827.47 784.63 L831.05 783.78 L834.64 782.95 L838.22 782.14 L841.81 781.34 L845.4 780.56 L848.98 779.78 L852.57 779.03 L856.15 778.28 L859.74 777.55 L863.33 776.83 L866.91 776.11 L870.5 775.4 L874.08 774.7 L877.67 774.01 L881.26 773.33 L884.84 772.66 L888.43 772.01 L892.01 771.37 L895.6 770.75 L899.19 770.16 L902.77 769.58 L906.36 769.03 L909.94 768.51 L913.53 768.01 L917.12 767.52 L920.7 767.06 L924.29 766.61 L927.87 766.17 L931.46 765.75 L935.05 765.34 L938.63 764.94 L942.22 764.56 L945.8 764.18 L949.39 763.81 L952.98 763.46 L956.56 763.13 L1254.2 762" fill="none" stroke="#228B22" stroke-width="6" stroke-linejoin="round"/>
<path d="M537 1190 L540.59 1151.14 L544.17 1112.43 L547.76 1087.6 L551.34 1067.03 L554.93 1049.11 L558.52 1033.13 L562.1 1018.27 L565.69 1004.34 L569.27 991.49 L572.86 979.83 L576.45 969.15 L580.03 959.22 L583.62 950.2 L587.2 942.26 L590.79 935.28 L594.38 928.86 L597.96 922.94 L601.55 917.46 L605.13 912.29 L608.72 907.37 L612.31 902.61 L615.89 898.02 L619.48 893.61 L623.06 889.37 L626.65 885.28 L630.24 881.36 L633.82 877.58 L637.41 873.94 L640.99 870.43 L644.58 867.05 L648.17 863.75 L651.75 860.54 L655.34 857.42 L658.92 854.41 L662.51 851.5 L666.1 848.72 L669.68 846.05 L673.27 843.51 L676.85 841.1 L680.44 838.8 L684.03 836.58 L687.61 834.43 L691.2 832.35 L694.78 830.34 L698.37 828.4 L701.96 826.52 L705.54 824.7 L709.13 822.93 L712.71 821.22 L716.3 819.55 L719.89 817.92 L723.47 816.35 L727.06 814.82 L730.64 813.33 L734.23 811.87 L737.82 810.46 L741.4 809.08 L744.99 807.73 L748.57 806.41 L752.16 805.11 L755.75 803.84 L759.33 802.59 L762.92 801.36 L766.5 800.14 L770.09 798.94 L773.68 797.76 L777.26 796.6 L780.85 795.46 L784.43 794.34 L788.02 793.24 L791.61 792.16 L795.19 791.1 L798.78 790.07 L802.36 789.06 L805.95 788.08 L809.54 787.12 L813.12 786.19 L816.71 785.27 L820.29 784.37 L823.88 783.49 L827.47 782.63 L831.05 781.78 L834.64 780.95 L838.22 780.14 L841.81 779.34 L845.4 778.56 L848.98 777.78 L852.57 777.03 L856.15 776.28 L859.74 775.55 L863.33 774.83 L866.91 774.11 L870.5 773.4 L874.08 772.7 L877.67 772.01 L881.26 771.33 L884.84 770.66 L888.43 770.01 L892.01 769.37 L895.6 768.75 L899.19 768.16 L902.77 767.58 L906.36 767.03 L909.94 766.51 L913.53 766.01 L917.12 765.52 L920.7 765.06 L924.29 764.61 L927.87 764.17 L931.46 763.75 L935.05 763.34 L938.63 762.94 L942.22 762.56 L945.8 762.18 L949.39 762 L952.98 762 L956.56 762 L1254.2 762" fill="none" stroke="#FA8072" stroke-width="6" stroke-linejoin="round" stroke-dasharray="22.85 22.86"/>
<path d="M537 1190 L540.59 1151.02 L544.17 1112.2 L547.76 1087.24 L551.34 1066.55 L554.93 1048.52 L558.52 1032.42 L562.1 1017.43 L565.69 1003.38 L569.27 990.41 L572.86 978.63 L576.45 967.84 L580.03 957.78 L583.62 948.64 L587.2 940.59 L590.79 933.49 L594.38 926.95 L597.96 920.94 L601.55 915.46 L605.13 910.29 L608.72 905.37 L612.31 900.61 L615.89 896.02 L619.48 891.61 L623.06 887.37 L626.65 883.28 L630.24 879.36 L633.82 875.58 L637.41 871.94 L640.99 868.43 L644.58 865.05 L648.17 861.75 L651.75 858.54 L655.34 855.42 L658.92 852.41 L662.51 849.5 L666.1 846.72 L669.68 844.05 L673.27 841.51 L676.85 839.1 L680.44 836.8 L684.03 834.58 L687.61 832.43 L691.2 830.35 L694.78 828.34 L698.37 826.4 L701.96 824.52 L705.54 822.7 L709.13 820.93 L712.71 819.22 L716.3 817.55 L719.89 815.92 L723.47 814.35 L727.06 812.82 L730.64 811.33 L734.23 809.87 L737.82 808.46 L741.4 807.08 L744.99 805.73 L748.57 804.41 L752.16 803.11 L755.75 801.84 L759.33 800.59 L762.92 799.36 L766.5 798.14 L770.09 796.94 L773.68 795.76 L777.26 794.6 L780.85 793.46 L784.43 792.34 L788.02 791.24 L791.61 790.16 L795.19 789.1 L798.78 788.07 L802.36 787.06 L805.95 786.08 L809.54 785.12 L813.12 784.19 L816.71 783.27 L820.29 782.37 L823.88 781.49 L827.47 780.63 L831.05 779.78 L834.64 778.95 L838.22 778.14 L841.81 777.34 L845.4 776.56 L848.98 775.78 L852.57 775.03 L856.15 774.28 L859.74 773.55 L863.33 772.83 L866.91 772.11 L870.5 771.4 L874.08 770.7 L877.67 770.01 L881.26 769.33 L884.84 768.66 L888.43 768.01 L892.01 767.37 L895.6 766.75 L899.19 766.16 L902.77 765.58 L906.36 765.03 L909.94 764.51 L913.53 764.01 L917.12 763.52 L920.7 763.06 L924.29 762.61 L927.87 762.17 L931.46 762 L935.05 762 L938.63 762 L942.22 762 L945.8 762 L949.39 762 L952.98 762 L956.56 762 L1254.2 762" fill="none" stroke="#00B2EE" stroke-width="6" stroke-linejoin="round" stroke-dasharray="5.7 5.7"/>
<path d="M537 1190 L540.59 1151.23 L544.17 1112.63 L547.76 1087.89 L551.34 1067.41 L554.93 1049.59 L558.52 1033.71 L562.1 1018.93 L565.69 1005.11 L569.27 992.35 L572.86 980.79 L576.45 970.21 L580.03 960.37 L583.62 951.44 L587.2 943.6 L590.79 936.71 L594.38 930.39 L597.96 924.54 L601.55 919.06 L605.13 913.89 L608.72 908.97 L612.31 904.21 L615.89 899.62 L619.48 895.21 L623.06 890.97 L626.65 886.88 L630.24 882.96 L633.82 879.18 L637.41 875.54 L640.99 872.03 L644.58 868.65 L648.17 865.35 L651.75 862.14 L655.34 859.02 L658.92 856.01 L662.51 853.1 L666.1 850.32 L669.68 847.65 L673.27 845.11 L676.85 842.7 L680.44 840.4 L684.03 838.18 L687.61 836.03 L691.2 833.95 L694.78 831.94 L698.37 830 L701.96 828.12 L705.54 826.3 L709.13 824.53 L712.71 822.82 L716.3 821.15 L719.89 819.52 L723.47 817.95 L727.06 816.42 L730.64 814.93 L734.23 813.47 L737.82 812.06 L741.4 810.68 L744.99 809.33 L748.57 808.01 L752.16 806.71 L755.75 805.44 L759.33 804.19 L762.92 802.96 L766.5 801.74 L770.09 800.54 L773.68 799.36 L777.26 798.2 L780.85 797.06 L784.43 795.94 L788.02 794.84 L791.61 793.76 L795.19 792.7 L798.78 791.67 L802.36 790.66 L805.95 789.68 L809.54 788.72 L813.12 787.79 L816.71 786.87 L820.29 785.97 L823.88 785.09 L827.47 784.23 L831.05 783.38 L834.64 782.55 L838.22 781.74 L841.81 780.94 L845.4 780.16 L848.98 779.38 L852.57 778.63 L856.15 777.88 L859.74 777.15 L863.33 776.43 L866.91 775.71 L870.5 775 L874.08 774.3 L877.67 773.61 L881.26 772.93 L884.84 772.26 L888.43 771.61 L892.01 770.97 L895.6 770.35 L899.19 769.76 L902.77 769.18 L906.36 768.63 L909.94 768.11 L913.53 767.61 L917.12 767.12 L920.7 766.66 L924.29 766.21 L927.87 765.77 L931.46 765.35 L935.05 764.94 L938.63 764.54 L942.22 764.16 L945.8 763.78 L949.39 763.41 L952.98 763.06 L956.56 762.73 L1254.2 762" fill="none" stroke="#6B8E23" stroke-width="6" stroke-linejoin="round"/>
<path d="M537 1190 L540.59 1151.04 L544.17 1112.24 L547.76 1087.31 L551.34 1066.65 L554.93 1048.64 L558.52 1032.56 L562.1 1017.6 L565.69 1003.58 L569.27 990.62 L572.86 978.87 L576.45 968.1 L580.03 958.07 L583.62 948.95 L587.2 940.92 L590.79 933.85 L594.38 927.33 L597.96 921.34 L601.55 915.86 L605.13 910.69 L608.72 905.77 L612.31 901.01 L615.89 896.42 L619.48 892.01 L623.06 887.77 L626.65 883.68 L630.24 879.76 L633.82 875.98 L637.41 872.34 L640.99 868.83 L644.58 865.45 L648.17 862.15 L651.75 858.94 L655.34 855.82 L658.92 852.81 L662.51 849.9 L666.1 847.12 L669.68 844.45 L673.27 841.91 L676.85 839.5 L680.44 837.2 L684.03 834.98 L687.61 832.83 L691.2 830.75 L694.78 828.74 L698.37 826.8 L701.96 824.92 L705.54 823.1 L709.13 821.33 L712.71 819.62 L716.3 817.95 L719.89 816.32 L723.47 814.75 L727.06 813.22 L730.64 811.73 L734.23 810.27 L737.82 808.86 L741.4 807.48 L744.99 806.13 L748.57 804.81 L752.16 803.51 L755.75 802.24 L759.33 800.99 L762.92 799.76 L766.5 798.54 L770.09 797.34 L773.68 796.16 L777.26 795 L780.85 793.86 L784.43 792.74 L788.02 791.64 L791.61 790.56 L795.19 789.5 L798.78 788.47 L802.36 787.46 L805.95 786.48 L809.54 785.52 L813.12 784.59 L816.71 783.67 L820.29 782.77 L823.88 781.89 L827.47 781.03 L831.05 780.18 L834.64 779.35 L838.22 778.54 L841.81 777.74 L845.4 776.96 L848.98 776.18 L852.57 775.43 L856.15 774.68 L859.74 773.95 L863.33 773.23 L866.91 772.51 L870.5 771.8 L874.08 771.1 L877.67 770.41 L881.26 769.73 L884.84 769.06 L888.43 768.41 L892.01 767.77 L895.6 767.15 L899.19 766.56 L902.77 765.98 L906.36 765.43 L909.94 764.91 L913.53 764.41 L917.12 763.92 L920.7 763.46 L924.29 763.01 L927.87 762.57 L931.46 762.15 L935.05 762 L938.63 762 L942.22 762 L945.8 762 L949.39 762 L952.98 762 L956.56 762 L1254.2 762" fill="none" stroke="#FFA500" stroke-width="6" stroke-linejoin="round" stroke-dasharray="22.85 22.86"/>
<path d="M537 1190 L540.59 1150.92 L544.17 1112 L547.76 1086.95 L551.34 1066.17 L554.93 1048.04 L558.52 1031.84 L562.1 1016.76 L565.69 1002.62 L569.27 989.55 L572.86 977.68 L576.45 966.79 L580.03 956.64 L583.62 947.4 L587.2 939.25 L590.79 932.05 L594.38 925.42 L597.96 919.34 L601.55 913.86 L605.13 908.69 L608.72 903.77 L612.31 899.01 L615.89 894.42 L619.48 890.01 L623.06 885.77 L626.65 881.68 L630.24 877.76 L633.82 873.98 L637.41 870.34 L640.99 866.83 L644.58 863.45 L648.17 860.15 L651.75 856.94 L655.34 853.82 L658.92 850.81 L662.51 847.9 L666.1 845.12 L669.68 842.45 L673.27 839.91 L676.85 837.5 L680.44 835.2 L684.03 832.98 L687.61 830.83 L691.2 828.75 L694.78 826.74 L698.37 824.8 L701.96 822.92 L705.54 821.1 L709.13 819.33 L712.71 817.62 L716.3 815.95 L719.89 814.32 L723.47 812.75 L727.06 811.22 L730.64 809.73 L734.23 808.27 L737.82 806.86 L741.4 805.48 L744.99 804.13 L748.57 802.81 L752.16 801.51 L755.75 800.24 L759.33 798.99 L762.92 797.76 L766.5 796.54 L770.09 795.34 L773.68 794.16 L777.26 793 L780.85 791.86 L784.43 790.74 L788.02 789.64 L791.61 788.56 L795.19 787.5 L798.78 786.47 L802.36 785.46 L805.95 784.48 L809.54 783.52 L813.12 782.59 L816.71 781.67 L820.29 780.77 L823.88 779.89 L827.47 779.03 L831.05 778.18 L834.64 777.35 L838.22 776.54 L841.81 775.74 L845.4 774.96 L848.98 774.18 L852.57 773.43 L856.15 772.68 L859.74 771.95 L863.33 771.23 L866.91 770.51 L870.5 769.8 L874.08 769.1 L877.67 768.41 L881.26 767.73 L884.84 767.06 L888.43 766.41 L892.01 765.77 L895.6 765.15 L899.19 764.56 L902.77 763.98 L906.36 763.43 L909.94 762.91 L913.53 762.41 L917.12 762 L920.7 762 L924.29 762 L927.87 762 L931.46 762 L935.05 762 L938.63 762 L942.22 762 L945.8 762 L949.39 762 L952.98 762 L956.56 762 L1254.2 762" fill="none" stroke="#0000CD" stroke-width="6" stroke-linejoin="round" stroke-dasharray="5.7 5.7"/>
<path d="M537 1190 L540.59 1151.2 L544.17 1112.55 L547.76 1087.78 L551.34 1067.27 L554.93 1049.41 L558.52 1033.49 L562.1 1018.68 L565.69 1004.82 L569.27 992.02 L572.86 980.43 L576.45 969.81 L580.03 959.94 L583.62 950.97 L587.2 943.1 L590.79 936.18 L594.38 929.82 L597.96 923.94 L601.55 918.46 L605.13 913.29 L608.72 908.37 L612.31 903.61 L615.89 899.02 L619.48 894.61 L623.06 890.37 L626.65 886.28 L630.24 882.36 L633.82 878.58 L637.41 874.94 L640.99 871.43 L644.58 868.05 L648.17 864.75 L651.75 861.54 L655.34 858.42 L658.92 855.41 L662.51 852.5 L666.1 849.72 L669.68 847.05 L673.27 844.51 L676.85 842.1 L680.44 839.8 L684.03 837.58 L687.61 835.43 L691.2 833.35 L694.78 831.34 L698.37 829.4 L701.96 827.52 L705.54 825.7 L709.13 823.93 L712.71 822.22 L716.3 820.55 L719.89 818.92 L723.47 817.35 L727.06 815.82 L730.64 814.33 L734.23 812.87 L737.82 811.46 L741.4 810.08 L744.99 808.73 L748.57 807.41 L752.16 806.11 L755.75 804.84 L759.33 803.59 L762.92 802.36 L766.5 801.14 L770.09 799.94 L773.68 798.76 L777.26 797.6 L780.85 796.46 L784.43 795.34 L788.02 794.24 L791.61 793.16 L795.19 792.1 L798.78 791.07 L802.36 790.06 L805.95 789.08 L809.54 788.12 L813.12 787.19 L816.71 786.27 L820.29 785.37 L823.88 784.49 L827.47 783.63 L831.05 782.78 L834.64 781.95 L838.22 781.14 L841.81 780.34 L845.4 779.56 L848.98 778.78 L852.57 778.03 L856.15 777.28 L859.74 776.55 L863.33 775.83 L866.91 775.11 L870.5 774.4 L874.08 773.7 L877.67 773.01 L881.26 772.33 L884.84 771.66 L888.43 771.01 L892.01 770.37 L895.6 769.75 L899.19 769.16 L902.77 768.58 L906.36 768.03 L909.94 767.51 L913.53 767.01 L917.12 766.52 L920.7 766.06 L924.29 765.61 L927.87 765.17 L931.46 764.75 L935.05 764.34 L938.63 763.94 L942.22 763.56 L945.8 763.18 L949.39 762.81 L952.98 762.46 L956.56 762.13 L1254.2 762" fill="none" stroke="#2E8B57" stroke-width="6" stroke-linejoin="round"/>
<path d="M537 1190 L540.59 1150.98 L544.17 1112.12 L547.76 1087.13 L551.34 1066.41 L554.93 1048.34 L558.52 1032.2 L562.1 1017.18 L565.69 1003.1 L569.27 990.09 L572.86 978.28 L576.45 967.44 L580.03 957.35 L583.62 948.18 L587.2 940.08 L590.79 932.95 L594.38 926.37 L597.96 920.34 L601.55 914.86 L605.13 909.69 L608.72 904.77 L612.31 900.01 L615.89 895.42 L619.48 891.01 L623.06 886.77 L626.65 882.68 L630.24 878.76 L633.82 874.98 L637.41 871.34 L640.99 867.83 L644.58 864.45 L648.17 861.15 L651.75 857.94 L655.34 854.82 L658.92 851.81 L662.51 848.9 L666.1 846.12 L669.68 843.45 L673.27 840.91 L676.85 838.5 L680.44 836.2 L684.03 833.98 L687.61 831.83 L691.2 829.75 L694.78 827.74 L698.37 825.8 L701.96 823.92 L705.54 822.1 L709.13 820.33 L712.71 818.62 L716.3 816.95 L719.89 815.32 L723.47 813.75 L727.06 812.22 L730.64 810.73 L734.23 809.27 L737.82 807.86 L741.4 806.48 L744.99 805.13 L748.57 803.81 L752.16 802.51 L755.75 801.24 L759.33 799.99 L762.92 798.76 L766.5 797.54 L770.09 796.34 L773.68 795.16 L777.26 794 L780.85 792.86 L784.43 791.74 L788.02 790.64 L791.61 789.56 L795.19 788.5 L798.78 787.47 L802.36 786.46 L805.95 785.48 L809.54 784.52 L813.12 783.59 L816.71 782.67 L820.29 781.77 L823.88 780.89 L827.47 780.03 L831.05 779.18 L834.64 778.35 L838.22 777.54 L841.81 776.74 L845.4 775.96 L848.98 775.18 L852.57 774.43 L856.15 773.68 L859.74 772.95 L863.33 772.23 L866.91 771.51 L870.5 770.8 L874.08 770.1 L877.67 769.41 L881.26 768.73 L884.84 768.06 L888.43 767.41 L892.01 766.77 L895.6 766.15 L899.19 765.56 L902.77 764.98 L906.36 764.43 L909.94 763.91 L913.53 763.41 L917.12 762.92 L920.7 762.46 L924.29 762.01 L927.87 762 L931.46 762 L935.05 762 L938.63 762 L942.22 762 L945.8 762 L949.39 762 L952.98 762 L956.56 762 L1254.2 762" fill="none" stroke="#FF4500" stroke-width="6" stroke-linejoin="round" stroke-dasharray="22.85 22.86"/>
<rect x="657.1" y="896.9" width="348.15" height="269.2" fill="#fff"/>
<path d="M701.9 1166.1v-5.31M701.9 896.9v5.31M1001.9 1166.1v-5.31M1001.9 896.9v5.31M657.1 951h5.31M1005.25 951h-5.31" fill="none" stroke="#262626" stroke-width="3.65"/>
<rect x="657.1" y="896.9" width="348.15" height="269.2" fill="none" stroke="#262626" stroke-width="3.65"/>
<text x="645.5" y="905.3" font-size="23.55" text-anchor="end" fill="#262626">5</text>
<text x="645.5" y="959.4" font-size="23.55" text-anchor="end" fill="#262626">0</text>
<text x="645.5" y="1174.5" font-size="23.55" text-anchor="end" fill="#262626">-20</text>
<text x="701.5" y="1198.8" font-size="23.55" text-anchor="middle" fill="#262626">35.05</text>
<text x="1001.8" y="1198.8" font-size="23.55" text-anchor="middle" fill="#262626">35.06</text>
<text x="830.6" y="1231.6" font-size="26.1" text-anchor="middle" fill="#000">t</text>
<text x="657.95" y="895.1" font-size="29.4" fill="#262626">×</text>
<text x="675.8" y="890.9" font-size="23.55" fill="#262626">10</text>
<text x="699.8" y="879.1" font-size="19" fill="#262626">-3</text>
<path d="M733.76 1166.1 L761.9 1125.33 L791.9 1085.61 L821.9 1049.57 L851.9 1016.72 L881.9 990.67 L911.9 967.73 L941.9 951.2 L971.9 951.2 L1001.9 951.2 L1005.25 951.2" fill="none" stroke="#4876FF" stroke-width="6" stroke-linejoin="round" stroke-dasharray="5.7 5.7"/>
<path d="M757.13 1166.1 L761.9 1159.39 L791.9 1117.12 L821.9 1077.28 L851.9 1041.22 L881.9 1008.95 L911.9 982.87 L941.9 963.13 L971.9 951.2 L1001.9 951.2 L1005.25 951.2" fill="none" stroke="#228B22" stroke-width="6" stroke-linejoin="round"/>
<path d="M740.32 1166.1 L761.9 1132.79 L791.9 1092.94 L821.9 1057.06 L851.9 1024.91 L881.9 996.91 L911.9 973.09 L941.9 953.48 L971.9 951.2 L1001.9 951.2 L1005.25 951.2" fill="none" stroke="#FA8072" stroke-width="6" stroke-linejoin="round" stroke-dasharray="22.85 22.86" stroke-dashoffset="1.2"/>
<path d="M690.25 1166.1 L701.9 1148.49 L731.9 1106.82 L761.9 1068.65 L791.9 1034.37 L821.9 1004.01 L851.9 978.24 L881.9 959.71 L911.9 951.2 L941.9 951.2 L971.9 951.2 L1001.9 951.2 L1005.25 951.2" fill="none" stroke="#00B2EE" stroke-width="6" stroke-linejoin="round" stroke-dasharray="5.7 5.7"/>
<path d="M753.53 1166.1 L761.9 1154.48 L791.9 1112.92 L821.9 1074.07 L851.9 1038.82 L881.9 1007.19 L911.9 981.68 L941.9 961.71 L971.9 951.2 L1001.9 951.2 L1005.25 951.2" fill="none" stroke="#6B8E23" stroke-width="6" stroke-linejoin="round"/>
<path d="M705.03 1166.1 L731.9 1127.69 L761.9 1087.7 L791.9 1050.86 L821.9 1018.62 L851.9 991.3 L881.9 969.61 L911.9 955.71 L941.9 951.2 L971.9 951.2 L1001.9 951.2 L1005.25 951.2" fill="none" stroke="#FFA500" stroke-width="6" stroke-linejoin="round" stroke-dasharray="22.85 22.86" stroke-dashoffset="1.5"/>
<path d="M657.1 1151.24 L671.9 1130.46 L701.9 1091.2 L731.9 1054.42 L761.9 1021.04 L791.9 992.8 L821.9 969.91 L851.9 953.54 L881.9 951.2 L911.9 951.2 L941.9 951.2 L971.9 951.2 L1001.9 951.2 L1005.25 951.2" fill="none" stroke="#0000CD" stroke-width="6" stroke-linejoin="round" stroke-dasharray="5.7 5.7"/>
<path d="M749.94 1166.1 L761.9 1149.7 L791.9 1108.9 L821.9 1071 L851.9 1036.5 L881.9 1005.5 L911.9 980.5 L941.9 960.4 L971.9 951.2 L1001.9 951.2 L1005.25 951.2" fill="none" stroke="#2E8B57" stroke-width="6" stroke-linejoin="round"/>
<path d="M672.46 1166.1 L701.9 1122.61 L731.9 1082.17 L761.9 1045.91 L791.9 1015.7 L821.9 988.23 L851.9 966.14 L881.9 953.93 L911.9 951.2 L941.9 951.2 L971.9 951.2 L1001.9 951.2 L1005.25 951.2" fill="none" stroke="#FF4500" stroke-width="6" stroke-linejoin="round" stroke-dasharray="22.85 22.86" stroke-dashoffset="2"/>
<rect x="1013.1" y="899.9" width="229.5" height="268.2" fill="#fff" stroke="#262626" stroke-width="3.65"/>
<path d="M1023.8 918H1095.9" stroke="#4876FF" stroke-width="6" fill="none" stroke-dasharray="5.7 5.68"/>
<text x="1101" y="925.3" font-size="21.4" fill="#000">k3=1--SMC</text>
<path d="M1023.8 947H1095.9" stroke="#228B22" stroke-width="6" fill="none"/>
<text x="1101" y="954.3" font-size="21.4" fill="#000">k3=1--CSMC</text>
<path d="M1023.8 976H1095.9" stroke="#FA8072" stroke-width="6" fill="none" stroke-dasharray="23.3 22.3"/>
<text x="1101" y="983.3" font-size="21.4" fill="#000">k3=1--PCSMC</text>
<path d="M1023.8 1005H1095.9" stroke="#00B2EE" stroke-width="6" fill="none" stroke-dasharray="5.7 5.68"/>
<text x="1101" y="1012.3" font-size="21.4" fill="#000">k3=3--SMC</text>
<path d="M1023.8 1034H1095.9" stroke="#6B8E23" stroke-width="6" fill="none"/>
<text x="1101" y="1041.3" font-size="21.4" fill="#000">k3=3--CSMC</text>
<path d="M1023.8 1063H1095.9" stroke="#FFA500" stroke-width="6" fill="none" stroke-dasharray="23.3 22.3"/>
<text x="1101" y="1070.3" font-size="21.4" fill="#000">k3=3--PCSMC</text>
<path d="M1023.8 1092H1095.9" stroke="#0000CD" stroke-width="6" fill="none" stroke-dasharray="5.7 5.68"/>
<text x="1101" y="1099.3" font-size="21.4" fill="#000">k3=5--SMC</text>
<path d="M1023.8 1121H1095.9" stroke="#2E8B57" stroke-width="6" fill="none"/>
<text x="1101" y="1128.3" font-size="21.4" fill="#000">k3=5--CSMC</text>
<path d="M1023.8 1150H1095.9" stroke="#FF4500" stroke-width="6" fill="none" stroke-dasharray="23.3 22.3"/>
<text x="1101" y="1157.3" font-size="21.4" fill="#000">k3=5--PCSMC</text>
<text x="855" y="1354.9" font-size="48" text-anchor="middle" fill="#000">(c)</text>
</svg>
</body></html>
